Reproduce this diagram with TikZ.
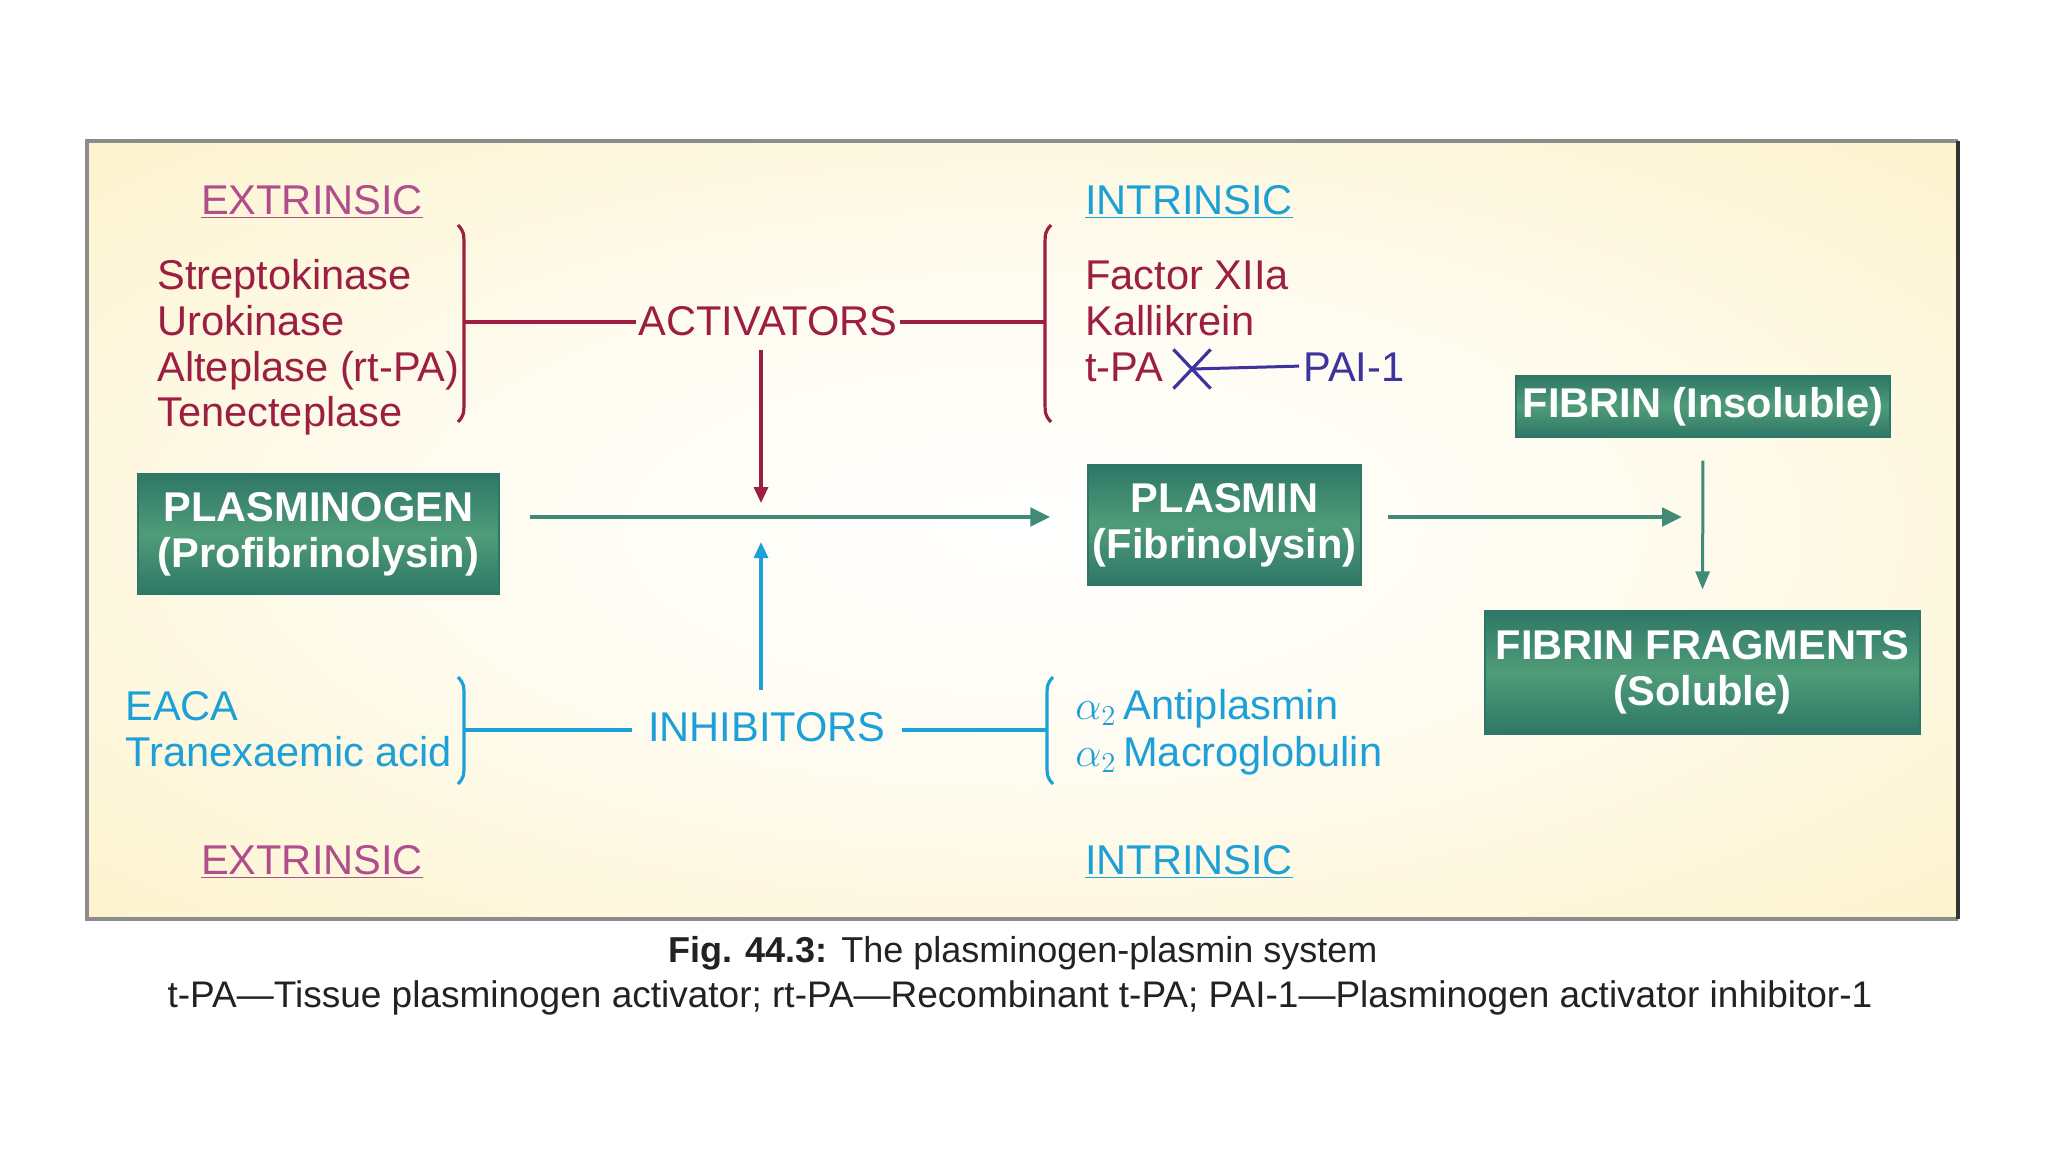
\documentclass[tikz,border=0pt]{standalone}
\usepackage{fontspec}
\setmainfont{Liberation Sans}
\usetikzlibrary{arrows.meta,shapes.misc,calc}
\definecolor{maroonc}{HTML}{9C1E42}
\definecolor{extpink}{HTML}{B04D8C}
\definecolor{cyanb}{HTML}{1DA0D8}
\definecolor{indigoc}{HTML}{3C33A0}
\definecolor{boxdark}{HTML}{2E7767}
\definecolor{boxlight}{HTML}{4F9C78}
\definecolor{arrteal}{HTML}{3F8B78}
\definecolor{yellowbg}{HTML}{FCF1C2}
\definecolor{capgray}{HTML}{222222}
\pgfdeclareradialshading{bgshade}{\pgfpoint{0bp}{0bp}}{color(0bp)=(white); color(16bp)=(white!75!yellowbg); color(42bp)=(yellowbg); color(90bp)=(yellowbg)}
\begin{document}
\begin{tikzpicture}[x=0.5pt,y=-0.5pt,
  txt/.style={font=\fontsize{20.8}{23}\selectfont, inner sep=0pt, text height=18pt, text depth=3pt},
  listm/.style={txt, anchor=west, text=maroonc},
  listc/.style={txt, anchor=west, text=cyanb},
  hdrext/.style={txt, text=extpink},
  hdrint/.style={txt, text=cyanb},
  gbox/.style={inner sep=0pt, align=center, text=white,
    font=\bfseries\fontsize{20.8}{23}\selectfont,
    top color=boxdark, bottom color=boxdark, middle color=boxlight, draw=boxdark, line width=0.6pt},
  brk/.style={line width=1.6pt},
  redarr/.style={draw=maroonc, line width=1.6pt, -{Triangle[length=8pt,width=7pt]}},
  cyanarr/.style={draw=cyanb, line width=1.6pt, -{Triangle[length=8pt,width=7pt]}},
  mainarr/.style={draw=arrteal, line width=2.4pt, -{Triangle[length=10pt,width=9pt]}},
  fibarr/.style={draw=arrteal, line width=1.5pt, -{Triangle[length=9pt,width=7pt]}},
  captxt/.style={text=capgray, inner sep=0pt}
]
\useasboundingbox (0,0) rectangle (2048,1152);
\fill[white] (0,0) rectangle (2048,1152);
% frame
\shade[shading=bgshade] (87,141) rectangle (1958,919);
\draw[color=gray!90, line width=2pt] (1958,919) -- (87,919) -- (87,141) -- (1958,141);
\draw[color=black!80, line width=2pt] (1958,141) -- (1958,919);

% headers
\node[hdrext] (ext1) at (312,199) {\underline{EXTRINSIC}};
\node[hdrint] (int1) at (1189,199) {\underline{INTRINSIC}};
\node[hdrext] (ext2) at (312,859) {\underline{EXTRINSIC}};
\node[hdrint] (int2) at (1189,859) {\underline{INTRINSIC}};

% extrinsic activators
\node[listm] (sk) at (157,274) {Streptokinase};
\node[listm] (uk) at (157,320) {Urokinase};
\node[listm] (ap) at (157,366) {Alteplase (rt-PA)};
\node[listm] (tk) at (157,411) {Tenecteplase};

% intrinsic activators
\node[listm] (f12) at (1085,274) {Factor XIIa};
\node[listm] (kal) at (1085,320) {Kallikrein};
\node[listm] (tpa) at (1085,366) {t-PA};
\node[txt, anchor=west, text=indigoc] (pai) at (1303,366) {PAI-1};
\node[cross out, draw=indigoc, line width=1.6pt, minimum width=17pt, minimum height=18pt, inner sep=0pt] (xm) at (1192,369) {};
\draw[indigoc, line width=1.5pt, shorten <=2pt] (pai.west) -- (xm.center);

% activators brackets
\draw[maroonc, brk] (458,225) .. controls (464,232) .. (464,250) -- (464,397) .. controls (464,415) .. (458,422);
\draw[maroonc, brk] (1051,225) .. controls (1045,232) .. (1045,250) -- (1045,397) .. controls (1045,415) .. (1051,422);
\coordinate (ablL) at (464,322);
\coordinate (ablR) at (1045,322);
\node[txt, text=maroonc, inner xsep=1pt] (act) at (768,320) {ACTIVATORS};
\draw[maroonc, brk] (ablL) -- (ablL -| act.west);
\draw[maroonc, brk] (ablR -| act.east) -- (ablR);
\coordinate (actend) at (761,503);
\draw[redarr] (actend |- act.south) ++(0,9) -- (actend);

% boxes
\node[gbox, minimum width=180.5pt, minimum height=60pt] (plg) at (318.5,534) {PLASMINOGEN\\(Profibrinolysin)};
\node[gbox, minimum width=136.5pt, minimum height=60pt] (pls) at (1224.5,525) {PLASMIN\\(Fibrinolysin)};
\node[gbox, minimum width=187pt, minimum height=30.5pt] (fib) at (1703,406.5) {FIBRIN (Insoluble)};
\node[gbox, minimum width=217.5pt, minimum height=61.5pt] (frag) at (1702.5,672.5) {FIBRIN FRAGMENTS\\(Soluble)};

% main arrows
\draw[mainarr, shorten <=15pt, shorten >=18.5pt] ([yshift=8.5pt]plg.east) -- ([yshift=4pt]pls.west);
\coordinate (plsend) at (1682,517);
\draw[mainarr, shorten <=13pt] ([yshift=4pt]pls.east) -- (plsend);
\draw[fibarr, shorten <=11.5pt, shorten >=10.5pt] (fib.south) -- (frag.north);

% inhibitors
\draw[cyanb, brk] (458,677) .. controls (464,684) .. (464,700) -- (464,761) .. controls (464,777) .. (458,784);
\draw[cyanb, brk] (1053,677) .. controls (1047,684) .. (1047,700) -- (1047,761) .. controls (1047,777) .. (1053,784);
\coordinate (iblL) at (464,730);
\coordinate (iblR) at (1047,730);
\node[txt, text=cyanb, inner xsep=8pt] (inh) at (767,726) {INHIBITORS};
\draw[cyanb, brk] (iblL) -- (iblL -| inh.west);
\draw[cyanb, brk] (iblR -| inh.east) -- (iblR);
\coordinate (inhend) at (761,542);
\draw[cyanarr] (inhend |- inh.north) ++(0,-15) -- (inhend);

\node[listc] (eaca) at (125,705) {EACA};
\node[listc] (tra) at (125,751) {Tranexaemic acid};
\node[listc] (a2a) at (1075,704) {$\alpha_2$\,Antiplasmin};
\node[listc] (a2m) at (1075,751) {$\alpha_2$\,Macroglobulin};

% caption
\node[captxt, font=\fontsize{18}{21}\selectfont] (cap1) at (1023,953) {\textbf{Fig. 44.3:} The plasminogen-plasmin system};
\node[captxt, font=\fontsize{18.5}{21}\selectfont] (cap2) at (1020,998) {t-PA—Tissue plasminogen activator; rt-PA—Recombinant t-PA; PAI-1—Plasminogen activator inhibitor-1};
\end{tikzpicture}
\end{document}
